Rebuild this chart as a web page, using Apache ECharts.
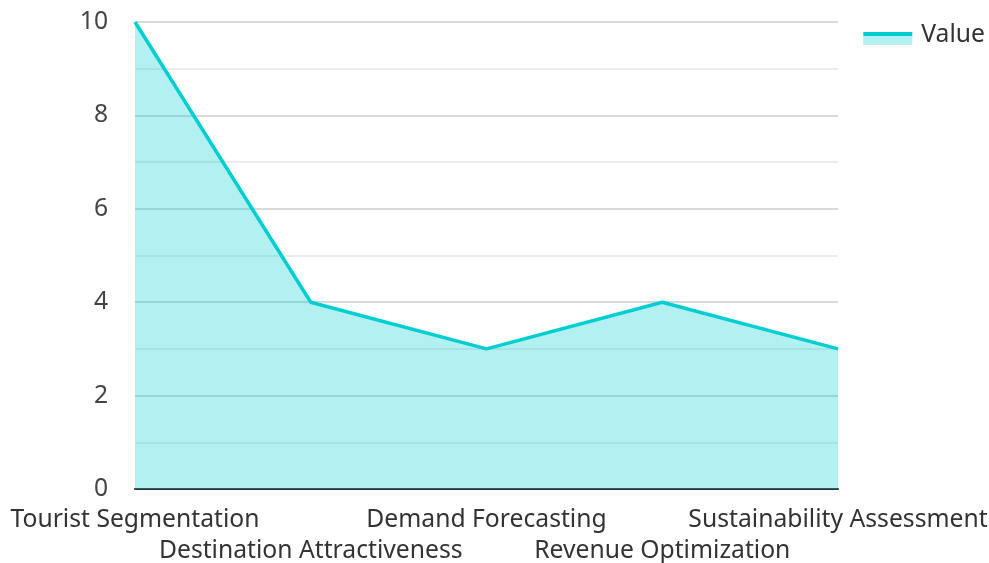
<!DOCTYPE html>
<html><head><meta charset="utf-8">
<script src="https://cdn.jsdelivr.net/npm/echarts@6/dist/echarts.min.js"></script>
<style>html,body{margin:0;padding:0;background:#fff}#c{width:989px;height:563px}</style>
</head><body><div id="c"></div>
<script>
const categories = ["Tourist Segmentation","Destination Attractiveness","Demand Forecasting","Revenue Optimization","Sustainability Assessment"];
const values = [10,4,3,4,3];
const seriesName = "Value";
const chart = echarts.init(document.getElementById('c'));
const font = "'Noto Sans', sans-serif";
chart.setOption({
  animation:false,
  textStyle:{fontFamily:font},
  grid:{left:135,right:151,top:22,bottom:74,outerBoundsMode:'none',containLabel:false},
  legend:{
    right:4, top:22, padding:0, icon:'rect', itemWidth:49, itemHeight:25, itemGap:9,
    textStyle:{fontSize:24.7,color:'#333',fontFamily:font,padding:[0,0,0,4]},
    data:[{name:seriesName, itemStyle:{color:new echarts.graphic.LinearGradient(0,0,0,1,[
      {offset:0,color:'rgba(255,255,255,0)'},{offset:0.40,color:'rgba(255,255,255,0)'},
      {offset:0.40,color:'#00CED1'},{offset:0.56,color:'#00CED1'},
      {offset:0.56,color:'#b2f0f1'},{offset:0.92,color:'#b2f0f1'},
      {offset:0.92,color:'rgba(255,255,255,0)'},{offset:1,color:'rgba(255,255,255,0)'}])}}]
  },
  xAxis:{
    type:'category', data:categories, boundaryGap:false,
    axisLine:{lineStyle:{color:'#333',width:2}},
    axisTick:{show:false},
    axisLabel:{interval:0,fontSize:24.7,color:'#333',margin:15,lineHeight:31,
      formatter:(v,i)=> i%2 ? '\n'+v : v}
  },
  yAxis:{
    type:'value', min:0, max:10, interval:2,
    axisLine:{show:false}, axisTick:{show:false},
    axisLabel:{fontSize:24.7,color:'#444',margin:27},
    splitLine:{lineStyle:{color:'#cccccc',width:1.5}},
    minorTick:{show:false,splitNumber:2},
    minorSplitLine:{show:true,lineStyle:{color:'#e6e6e6',width:1.5}}
  },
  series:[{
    name:seriesName, type:'line', data:values, showSymbol:false, symbol:'none',
    lineStyle:{color:'#00CED1',width:3.5},
    itemStyle:{color:'#00CED1'},
    areaStyle:{color:'#00CED1',opacity:0.3}
  }]
});
</script></body></html>
